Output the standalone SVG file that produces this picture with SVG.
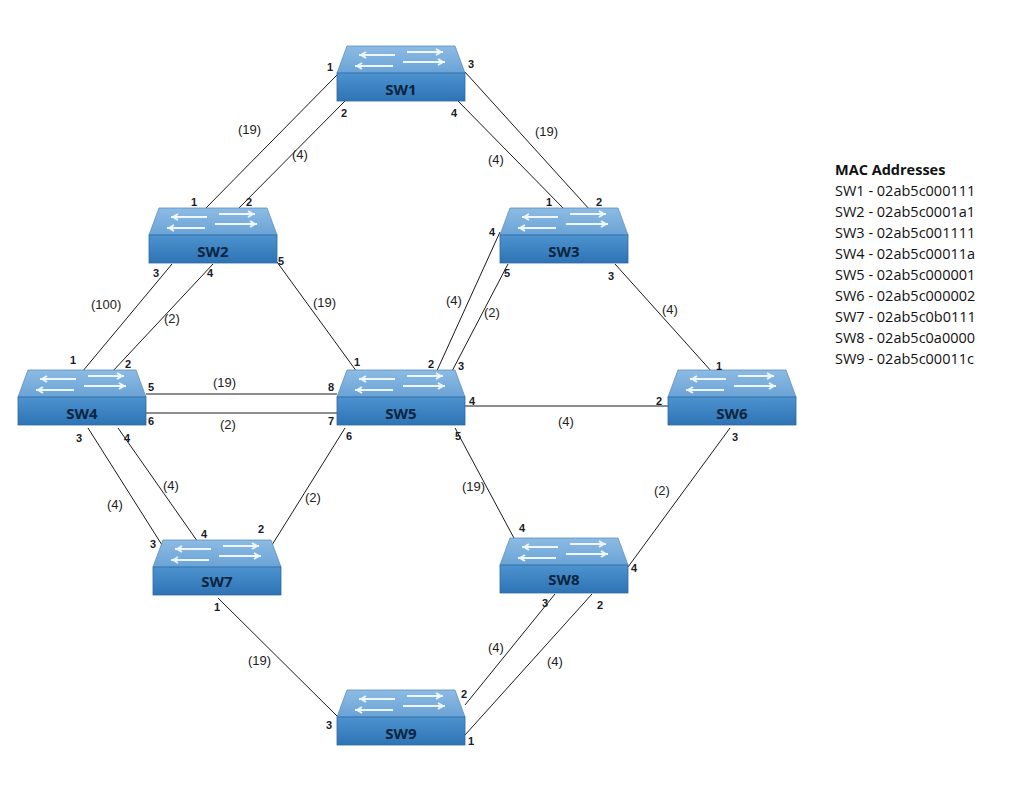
<svg xmlns="http://www.w3.org/2000/svg" xmlns:xlink="http://www.w3.org/1999/xlink" width="1024" height="793" viewBox="0 0 1024 793">
<style>
.ln{stroke:#1a1a1a;stroke-width:1;fill:none}
.c{font-family:"Liberation Sans",Arial,sans-serif;font-size:13px;fill:#222}
.p{font-family:"Liberation Sans",Arial,sans-serif;font-size:11px;font-weight:bold;fill:#1a1a2a}
.n{font-family:"Open Sans","Liberation Sans",sans-serif;font-size:15px;font-weight:bold;fill:#0c2440;text-anchor:middle}
.m{font-family:"Open Sans","Liberation Sans",sans-serif;font-size:14.5px;fill:#111}
</style>
<defs>
<linearGradient id="gt" x1="0" y1="0" x2="0" y2="1"><stop offset="0" stop-color="#8dbbe3"/><stop offset="1" stop-color="#6aa3d6"/></linearGradient>
<linearGradient id="gf" x1="0" y1="0" x2="0" y2="1"><stop offset="0" stop-color="#4d93cf"/><stop offset="1" stop-color="#2e74b5"/></linearGradient>
<g id="sw">
<polygon points="10,0 118,0 128,27 0,27" fill="url(#gt)" stroke="#5a8fc0" stroke-width="0.8"/>
<rect x="0" y="27" width="128" height="28" fill="url(#gf)" stroke="#2d6aa5" stroke-width="0.8"/>
<g stroke="#eef6ff" stroke-width="2" fill="none">
<path d="M22,9 H58 M24,9 l5,-3 M24,9 l5,3"/>
<path d="M70,6 H106 M104,6 l-5,-3 M104,6 l-5,3"/>
<path d="M18,20 H56 M20,20 l5,-3 M20,20 l5,3"/>
<path d="M66,16 H108 M106,16 l-5,-3 M106,16 l-5,3"/>
</g>
</g>
</defs>
<rect width="1024" height="793" fill="#fff"/>
<g id="connectors">
<line class="ln" x1="337" y1="75" x2="204" y2="210"/>
<line class="ln" x1="345" y1="101" x2="237" y2="210"/>
<line class="ln" x1="465" y1="72" x2="590" y2="210"/>
<line class="ln" x1="458" y1="101" x2="565" y2="210"/>
<line class="ln" x1="172" y1="264" x2="82" y2="372"/>
<line class="ln" x1="213" y1="264" x2="112" y2="372"/>
<line class="ln" x1="277" y1="262" x2="357" y2="372"/>
<line class="ln" x1="500" y1="232" x2="435" y2="375"/>
<line class="ln" x1="508" y1="264" x2="450" y2="375"/>
<line class="ln" x1="615" y1="264" x2="712" y2="372"/>
<line class="ln" x1="146" y1="394" x2="337" y2="394"/>
<line class="ln" x1="146" y1="413" x2="337" y2="413"/>
<line class="ln" x1="465" y1="406" x2="668" y2="406"/>
<line class="ln" x1="88" y1="428" x2="162" y2="545"/>
<line class="ln" x1="118" y1="428" x2="200" y2="545"/>
<line class="ln" x1="345" y1="428" x2="272" y2="545"/>
<line class="ln" x1="455" y1="428" x2="515" y2="540"/>
<line class="ln" x1="730" y1="428" x2="628" y2="567"/>
<line class="ln" x1="218" y1="598" x2="337" y2="716"/>
<line class="ln" x1="555" y1="594" x2="465" y2="705"/>
<line class="ln" x1="592" y1="594" x2="465" y2="735"/>
<text class="c" x="238" y="134">(19)</text>
<text class="c" x="292" y="159">(4)</text>
<text class="c" x="535" y="136">(19)</text>
<text class="c" x="488" y="164">(4)</text>
<text class="c" x="91" y="309">(100)</text>
<text class="c" x="164" y="323">(2)</text>
<text class="c" x="313" y="307">(19)</text>
<text class="c" x="446" y="305">(4)</text>
<text class="c" x="484" y="317">(2)</text>
<text class="c" x="662" y="314">(4)</text>
<text class="c" x="213" y="387">(19)</text>
<text class="c" x="220" y="429">(2)</text>
<text class="c" x="558" y="426">(4)</text>
<text class="c" x="107" y="509">(4)</text>
<text class="c" x="163" y="490">(4)</text>
<text class="c" x="305" y="502">(2)</text>
<text class="c" x="462" y="491">(19)</text>
<text class="c" x="654" y="495">(2)</text>
<text class="c" x="248" y="665">(19)</text>
<text class="c" x="488" y="652">(4)</text>
<text class="c" x="547" y="666">(4)</text>
</g>
<g id="SW1"><use xlink:href="#sw" x="337" y="46"/><text class="n" x="401" y="95">SW1</text>
<text class="p" x="327" y="71">1</text><text class="p" x="341" y="117">2</text><text class="p" x="468" y="68">3</text><text class="p" x="451" y="117">4</text></g>
<g id="SW2"><use xlink:href="#sw" x="149" y="208"/><text class="n" x="213" y="257">SW2</text>
<text class="p" x="191" y="206">1</text><text class="p" x="246" y="206">2</text><text class="p" x="153" y="277">3</text><text class="p" x="207" y="277">4</text><text class="p" x="278" y="265">5</text></g>
<g id="SW3"><use xlink:href="#sw" x="500" y="208"/><text class="n" x="564" y="257">SW3</text>
<text class="p" x="546" y="206">1</text><text class="p" x="596" y="206">2</text><text class="p" x="608" y="280">3</text><text class="p" x="489" y="236">4</text><text class="p" x="504" y="277">5</text></g>
<g id="SW4"><use xlink:href="#sw" x="18" y="370"/><text class="n" x="82" y="419">SW4</text>
<text class="p" x="70" y="364">1</text><text class="p" x="125" y="368">2</text><text class="p" x="76" y="442">3</text><text class="p" x="124" y="442">4</text><text class="p" x="148" y="391">5</text><text class="p" x="148" y="425">6</text></g>
<g id="SW5"><use xlink:href="#sw" x="337" y="370"/><text class="n" x="401" y="419">SW5</text>
<text class="p" x="354" y="366">1</text><text class="p" x="428" y="368">2</text><text class="p" x="458" y="370">3</text><text class="p" x="469" y="405">4</text><text class="p" x="455" y="440">5</text><text class="p" x="346" y="440">6</text><text class="p" x="328" y="425">7</text><text class="p" x="328" y="391">8</text></g>
<g id="SW6"><use xlink:href="#sw" x="668" y="370"/><text class="n" x="732" y="419">SW6</text>
<text class="p" x="716" y="370">1</text><text class="p" x="656" y="405">2</text><text class="p" x="732" y="441">3</text></g>
<g id="SW7"><use xlink:href="#sw" x="153" y="540"/><text class="n" x="217" y="587">SW7</text>
<text class="p" x="214" y="611">1</text><text class="p" x="258" y="533">2</text><text class="p" x="150" y="548">3</text><text class="p" x="201" y="538">4</text></g>
<g id="SW8"><use xlink:href="#sw" x="500" y="538"/><text class="n" x="564" y="585">SW8</text>
<text class="p" x="597" y="609">2</text><text class="p" x="542" y="607">3</text><text class="p" x="631" y="572">4</text><text class="p" x="519" y="532">4</text></g>
<g id="SW9"><use xlink:href="#sw" x="337" y="690"/><text class="n" x="401" y="739">SW9</text>
<text class="p" x="468" y="745">1</text><text class="p" x="461" y="698">2</text><text class="p" x="326" y="729">3</text></g>
<g id="mac">
<text class="m" x="835" y="175" font-weight="bold">MAC Addresses</text>
<text class="m" x="835" y="196">SW1 - 02ab5c000111</text>
<text class="m" x="835" y="217">SW2 - 02ab5c0001a1</text>
<text class="m" x="835" y="238">SW3 - 02ab5c001111</text>
<text class="m" x="835" y="259">SW4 - 02ab5c00011a</text>
<text class="m" x="835" y="280">SW5 - 02ab5c000001</text>
<text class="m" x="835" y="301">SW6 - 02ab5c000002</text>
<text class="m" x="835" y="322">SW7 - 02ab5c0b0111</text>
<text class="m" x="835" y="343">SW8 - 02ab5c0a0000</text>
<text class="m" x="835" y="364">SW9 - 02ab5c00011c</text>
</g>
</svg>
